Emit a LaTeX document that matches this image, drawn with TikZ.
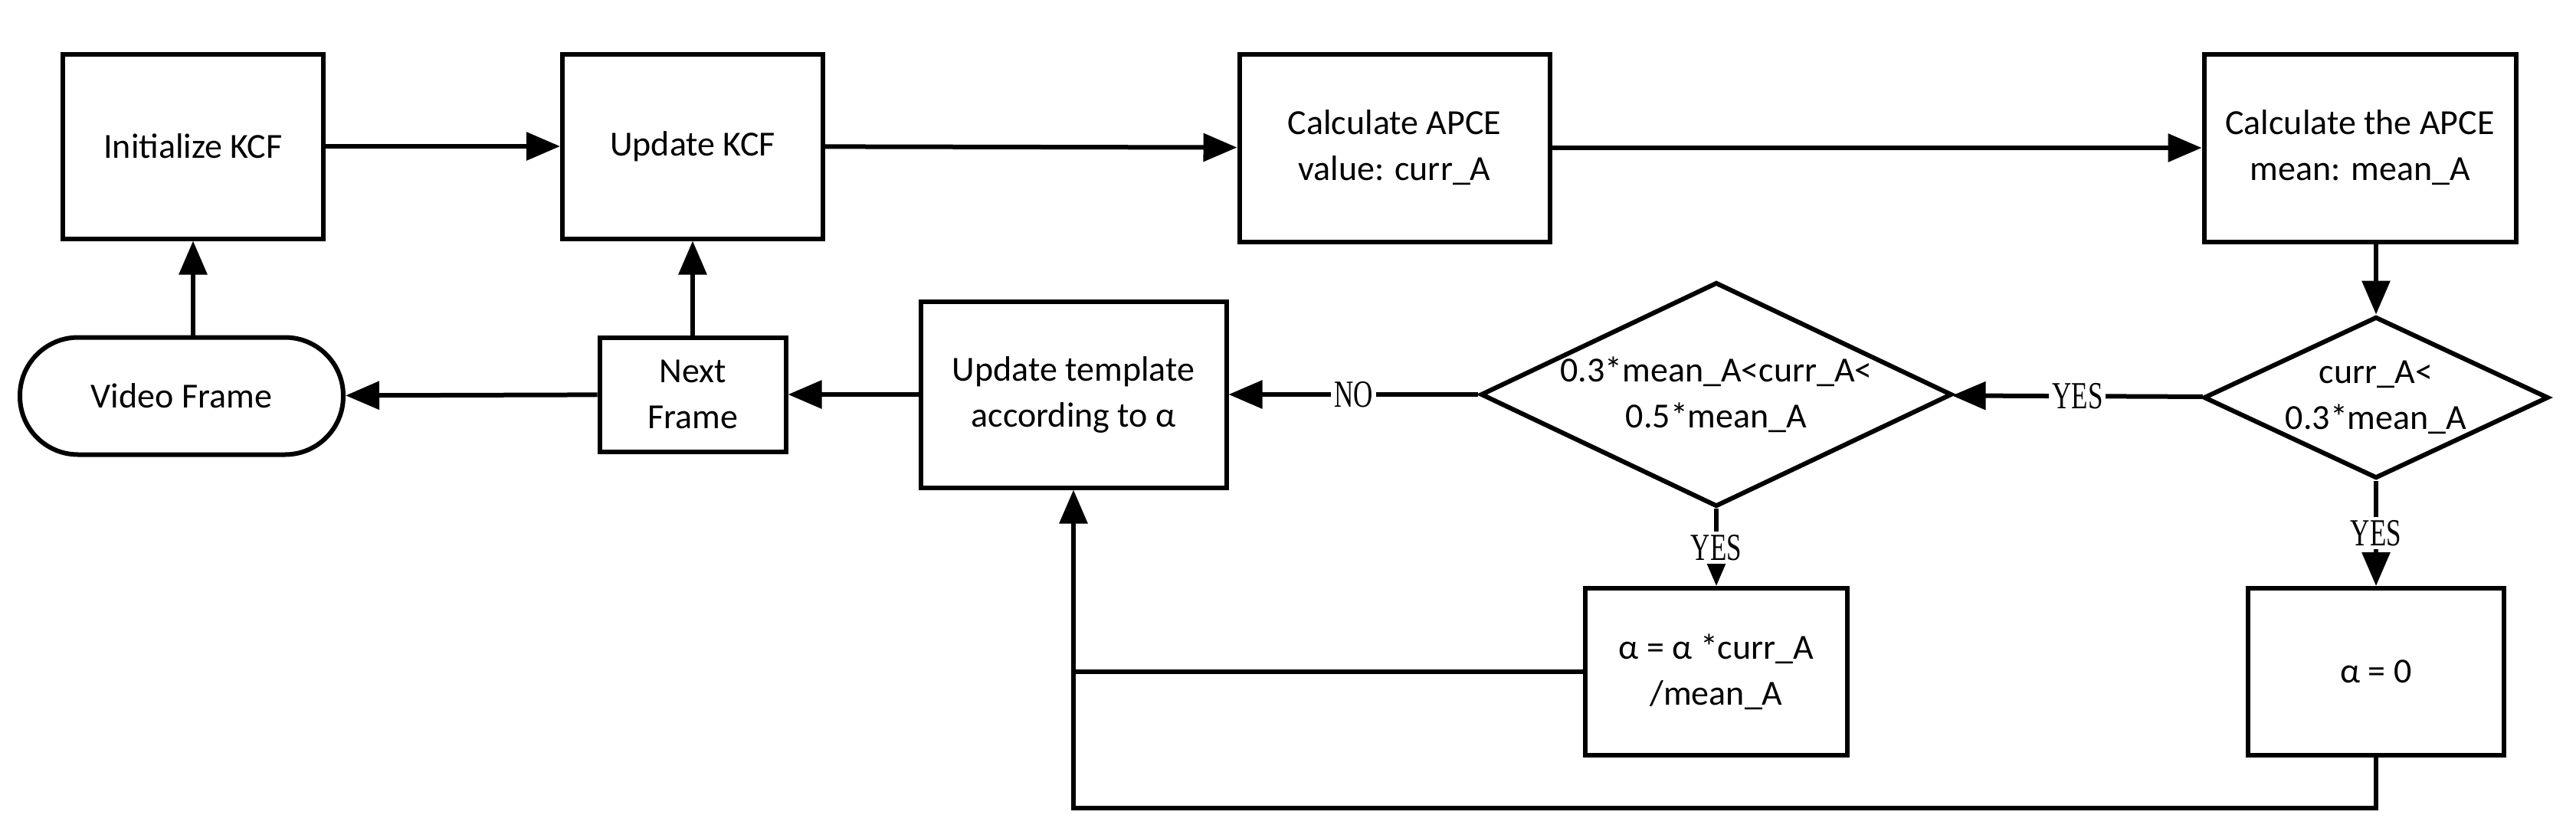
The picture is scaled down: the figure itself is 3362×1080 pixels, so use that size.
\documentclass[tikz,border=0pt]{standalone}
\usepackage{fontspec}
\setmainfont{Carlito}
\newfontfamily\labfont{Liberation Serif}
\usetikzlibrary{shapes.geometric,arrows.meta}

\tikzset{
    box/.style={draw, line width=6pt, align=center, font=\fontsize{46}{60}\selectfont},
    cond/.style={draw, diamond, aspect=2.1, inner sep=0pt, line width=6pt, align=center, font=\fontsize{46}{60}\selectfont},
    flow/.style={line width=6pt, -{Triangle[length=44pt,width=36pt]}},
    lab/.style={fill=white, inner sep=4pt, font=\labfont\fontsize{50}{50}\selectfont\addfontfeature{FakeStretch=0.7}},
}

\begin{document}
\begin{tikzpicture}[x=1pt, y=-1pt]
    		\useasboundingbox (0,0) rectangle (3362,1080);
    		
    		% top row
    		\node[box, minimum width=340pt, minimum height=241pt] (init) at (252,191) {Initialize KCF};
    		\node[box, minimum width=340pt, minimum height=241pt] (upd) at (904,191) {Update KCF};
    		\node[box, minimum width=405pt, minimum height=245pt] (apce) at (1820,193) {Calculate APCE\\value: curr\_A};
    		\node[box, minimum width=407pt, minimum height=245pt] (mean) at (3080,193) {Calculate the APCE\\mean: mean\_A};
    		
    		% middle row
    		\node[box, rounded corners=76pt, minimum width=422pt, minimum height=153pt] (video) at (237,517) {Video Frame};
    		\node[box, minimum width=243pt, minimum height=149pt] (next) at (904,515) {Next\\Frame};
    		\node[box, minimum width=399pt, minimum height=243pt] (tmpl) at (1401,515) {Update template\\according to α};
    		\node[cond, minimum width=594pt, minimum height=277pt] (mid) at (2240,515) {0.3*mean\_A<curr\_A<\\0.5*mean\_A};
    		\node[cond, minimum width=450pt, minimum height=211pt] (low) at (3101,519) {curr\_A<\\0.3*mean\_A};
    		
    		% bottom row
    		\node[box, minimum width=342pt, minimum height=218pt] (scale) at (2240,877) {α = α *curr\_A\\/mean\_A};
    		\node[box, minimum width=334pt, minimum height=218pt] (zero) at (3101,877) {α = 0};
    		\coordinate (corner) at (1401,1055);
    		
    		% connectors
    		\draw[flow] (init) -- (upd);
    		\draw[flow] (upd) -- (apce);
    		\draw[flow] (apce) -- (apce -| mean.west);
    		\draw[flow] (mean.south -| low) -- (low);
    		\draw[flow] (low) -- node[lab] {YES} (mid);
    		\draw[flow] (mid) -- node[lab] {NO} (tmpl);
    		\draw[flow] (mid) -- node[lab] {YES} (scale);
    		\draw[flow] (low) -- node[lab] {YES} (zero);
    		\draw[flow] (tmpl) -- (next);
    		\draw[flow] (next) -- (video);
    		\draw[flow] (video.north -| init) -- (init);
    		\draw[flow] (next) -- (upd);
    		\draw[line width=6pt] (scale.west) -- (scale.west -| corner);
    		\draw[flow] (zero.south) |- (corner) -- (tmpl.south);
    	\end{tikzpicture}
\end{document}
